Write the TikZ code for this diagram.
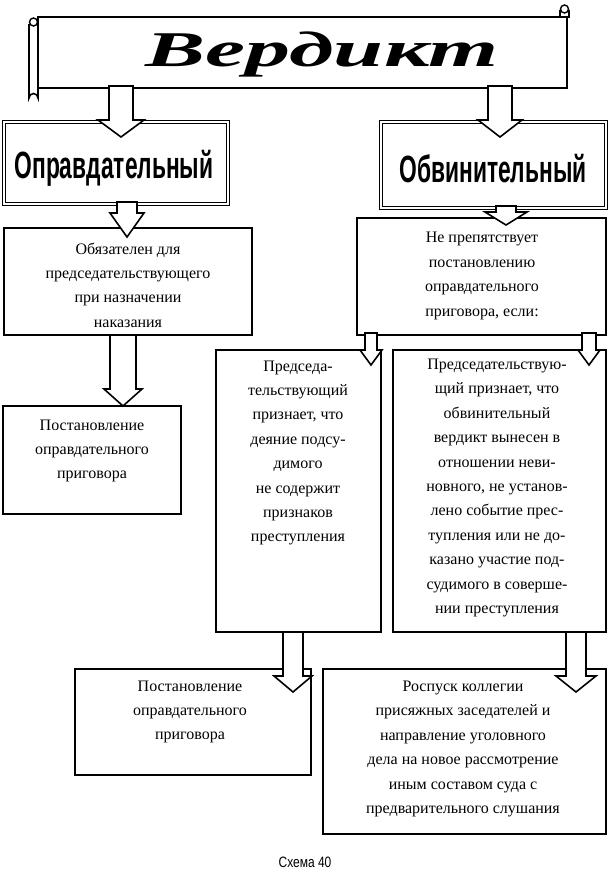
\documentclass[tikz,border=0pt]{standalone}
\usepackage{fontspec}
\usepackage{graphicx}
\setmainfont{Liberation Serif}
\newfontfamily\hdfont{Liberation Sans}
\tikzset{
  box/.style={draw,line width=1.6pt,fill=white},
  txt/.style={align=center,font=\fontsize{16}{24.4}\selectfont,inner sep=0pt},
  barrow/.style={draw,line width=1.6pt,fill=white,line join=miter},
}
\newcommand\blkarrow[6]{% x, ytop, yhead, ytip, halfshaft, halfhead
  \draw[barrow] (#1-#5,#2) -- (#1-#5,#3) -- (#1-#6,#3) -- (#1,#4) -- (#1+#6,#3) -- (#1+#5,#3) -- (#1+#5,#2) -- cycle;}
\begin{document}
\begin{tikzpicture}[x=1pt,y=-1pt]
\useasboundingbox[fill=white] (0,0) rectangle (610,876);
% scroll
\draw[line width=1.6pt] (38,17) rectangle (567,88);
\draw[line width=1.6pt,fill=white] (29,24) -- (29,98) arc[start angle=180,end angle=360,radius=4.5] -- (38,24);
\draw[line width=1.4pt] (33.5,22) circle[radius=4];
\draw[line width=1.6pt,fill=white] (560,10) -- (560,17) -- (569,17) -- (569,10);
\draw[line width=1.4pt] (564.5,9) circle[radius=4];
\node (title) at (322,54) {\fontsize{50}{50}\selectfont\bfseries\itshape\scalebox{1.8}[1]{Вердикт}};
% level 1
\draw[box,double,double distance=1.6pt] (4,122) rectangle (228,204);
\node (opr) at (114,168) {\hdfont\bfseries\fontsize{38}{38}\selectfont\scalebox{0.6}[1]{Оправдательный}};
\draw[box,double,double distance=1.6pt] (381,122) rectangle (606,208);
\node (obv) at (493,169) {\hdfont\bfseries\fontsize{38}{38}\selectfont\scalebox{0.6}[1]{Обвинительный}};
\blkarrow{121}{86}{120}{137}{12}{23}
\blkarrow{500}{86}{120}{137}{12}{22}
% level 2
\draw[box] (4,228) rectangle (252,335);
\node[txt] (obya) at (128,285) {Обязателен для\\председательствующего\\при назначении\\наказания};
\draw[box] (357,218) rectangle (606,335);
\node[txt] (nepr) at (482,276) {Не препятствует\\постановлению\\оправдательного\\приговора, если:};
\blkarrow{127}{202}{213}{237}{10}{17}
\blkarrow{506}{206}{212}{225}{10}{21}
% level 3
\draw[box] (3,406) rectangle (181,514);
\node[txt] (post1) at (92,451) {Постановление\\оправдательного\\приговора};
\draw[box] (216,350) rectangle (381,632);
\node[txt] (pred1) at (298,453) {Председа-\\тельствующий\\признает, что\\деяние подсу-\\димого\\не содержит\\признаков\\преступления};
\draw[box] (393,350) rectangle (606,632);
\node[txt] (pred2) at (497,488) {Председательствую-\\щий признает, что\\обвинительный\\вердикт вынесен в\\отношении  неви-\\новного, не установ-\\лено событие прес-\\тупления или не до-\\казано участие под-\\судимого в соверше-\\нии преступления};
\blkarrow{123}{335}{389}{406}{13}{19}
\blkarrow{371}{333}{350}{365}{6}{11}
\blkarrow{589}{333}{350}{365}{7}{11}
% level 4
\draw[box] (75,669) rectangle (311,775);
\node[txt] (post2) at (190,712) {Постановление\\оправдательного\\приговора};
\draw[box] (323,669) rectangle (606,834);
\node[txt] (rosp) at (463,749) {Роспуск коллегии\\присяжных заседателей и\\направление уголовного\\дела на новое рассмотрение\\иным составом суда с\\предварительного слушания};
\blkarrow{293}{632}{676}{692}{10}{19}
\blkarrow{576}{632}{676}{692}{10}{20}
\node[font=\hdfont\fontsize{15}{15}\selectfont] (cap) at (305,862) {\scalebox{0.8}[1]{Схема 40}};
\end{tikzpicture}
\end{document}
